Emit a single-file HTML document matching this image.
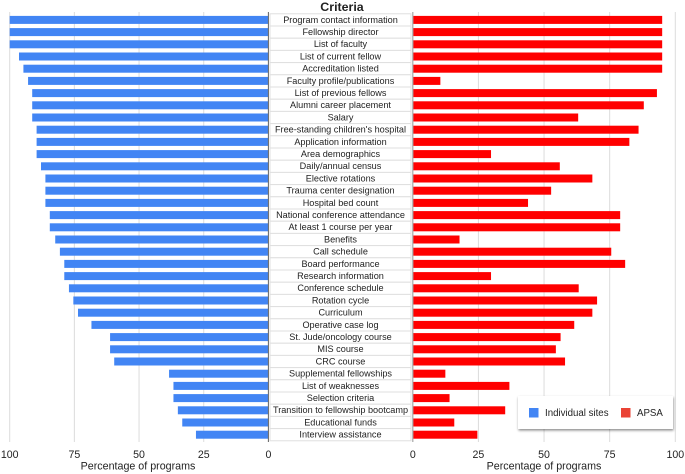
<!DOCTYPE html>
<html lang="en">
<head>
<meta charset="utf-8">
<title>Criteria chart</title>
<style>
html,body{margin:0;padding:0;background:#fff;}
body{width:685px;height:474px;overflow:hidden;position:relative;font-family:"Liberation Sans",sans-serif;}
svg{display:block;position:absolute;left:0;top:0;filter:blur(0.3px);}
text{font-family:"Liberation Sans",sans-serif;fill:#222;}
</style>
</head>
<body>
<svg id="chart" width="685" height="474" viewBox="0 0 685 474" xmlns="http://www.w3.org/2000/svg">
<defs>
<filter id="legendShadow" x="-10%" y="-20%" width="120%" height="150%">
<feDropShadow dx="0.5" dy="1.5" stdDeviation="1.3" flood-color="#000" flood-opacity="0.45"/>
</filter>
</defs>
</svg>
<script>
const categories = ["Program contact information","Fellowship director","List of faculty","List of current fellow","Accreditation listed","Faculty profile/publications","List of previous fellows","Alumni career placement","Salary","Free-standing children's hospital","Application information","Area demographics","Daily/annual census","Elective rotations","Trauma center designation","Hospital bed count","National conference attendance","At least 1 course per year","Benefits","Call schedule","Board performance","Research information","Conference schedule","Rotation cycle","Curriculum","Operative case log","St. Jude/oncology course","MIS course","CRC course","Supplemental fellowships","List of weaknesses","Selection criteria","Transition to fellowship bootcamp","Educational funds","Interview assistance"];
const individualSites = [100,100,100,96.4,94.7,92.9,91.3,91.3,91.3,89.6,89.6,89.6,87.9,86.2,86.2,86.2,84.5,84.5,82.4,80.6,78.9,78.9,77.1,75.4,73.6,68.4,61.2,61.2,59.6,38.4,36.7,36.7,35,33.3,28];
const apsa = [95,95,95,95,95,10.5,93,88,63,86,82.5,29.8,56,68.4,52.7,43.9,79,79,17.8,75.6,80.9,29.8,63.2,70.2,68.4,61.5,56.3,54.5,58,12.4,36.8,14,35.2,15.8,24.6];
const tickLabels = [0,25,50,75,100];

const NS = "http://www.w3.org/2000/svg";
const svg = document.getElementById("chart");
const leftX = v => 268.4 - v * 2.587;
const rightX = v => 412.8 + v * 2.625;
const rowY = i => 19.9 + i * 12.2;
const plotTop = 12;
const plotBottom = 442;

function make(tag, attrs, text) {
  const el = document.createElementNS(NS, tag);
  for (const k in attrs) el.setAttribute(k, attrs[k]);
  if (text !== undefined) el.textContent = text;
  svg.appendChild(el);
  return el;
}

tickLabels.forEach(t => {
  const g1 = make("line", {x1:leftX(t),x2:leftX(t),y1:plotTop,y2:plotBottom,stroke:"#dcdcdc","stroke-width":1});
  
  
  const g2 = make("line", {x1:rightX(t),x2:rightX(t),y1:plotTop,y2:plotBottom,stroke:"#dcdcdc","stroke-width":1});
  
  
  const l1 = make("text", {x:leftX(t),y:457.8,"text-anchor":"middle","font-size":10.6}, String(t));
  
  
  const l2 = make("text", {x:rightX(t),y:457.8,"text-anchor":"middle","font-size":10.6}, String(t));
  
  
});

categories.forEach((c, i) => {
  const y = rowY(i);
  const cell = make("rect", {x:270,y:y-6.1,width:141,height:12.2,fill:"#fff",stroke:"#dfdfdf","stroke-width":1});
  
  
  const lab = make("text", {x:340.5,y:y+2.9,"text-anchor":"middle","font-size":9.15}, c);
  
  
  const b1 = make("rect", {x:leftX(individualSites[i]),y:y-4,width:leftX(0)-leftX(individualSites[i]),height:8,fill:"#4285f4"});
  
  
  const b2 = make("rect", {x:rightX(0),y:y-4,width:rightX(apsa[i])-rightX(0),height:8,fill:"#ff0000"});
  
  
});

const axL = make("line", {x1:leftX(0),x2:leftX(0),y1:plotTop,y2:plotBottom,stroke:"#666","stroke-width":1});


const axR = make("line", {x1:rightX(0),x2:rightX(0),y1:plotTop,y2:plotBottom,stroke:"#aaa","stroke-width":1.2});



const title = make("text", {x:342,y:10.8,"text-anchor":"middle","font-size":12.4,"font-weight":"bold"}, "Criteria");


const xl = make("text", {x:138,y:469.5,"text-anchor":"middle","font-size":10.7}, "Percentage of programs");


const xr = make("text", {x:544,y:469.5,"text-anchor":"middle","font-size":10.7}, "Percentage of programs");



const box = make("rect", {x:518,y:396,width:155,height:33,fill:"#fff",filter:"url(#legendShadow)"});


const s1 = make("rect", {x:529,y:408,width:9.5,height:9.5,fill:"#4285f4"});


const t1 = make("text", {x:545,y:416.2,"font-size":9.7,fill:"#333"}, "Individual sites");


const s2 = make("rect", {x:621,y:408,width:9.5,height:9.5,fill:"#ea4335"});


const t2 = make("text", {x:637,y:416.2,"font-size":9.7,fill:"#333"}, "APSA");


</script>
</body>
</html>
